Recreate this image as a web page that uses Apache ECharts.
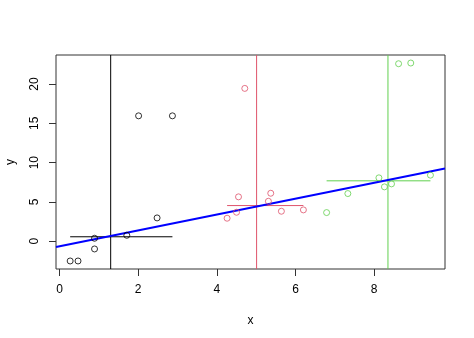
<!DOCTYPE html>
<html><head><meta charset="utf-8">
<script src="https://cdn.jsdelivr.net/npm/echarts@6/dist/echarts.min.js"></script>
<style>html,body{margin:0;padding:0;background:#fff}#c{width:474px;height:338px}</style>
</head><body><div id="c"></div>
<script>
// group 1 (black)
const blackX = [0.27, 0.47, 0.89, 0.89, 1.71, 2.01, 2.48, 2.87];
const blackY = [-2.51, -2.51, 0.38, -0.98, 0.76, 15.96, 2.97, 15.96];
// group 2 (red)
const redX = [4.26, 4.50, 4.55, 4.71, 5.31, 5.37, 5.64, 6.20];
const redY = [2.93, 3.69, 5.65, 19.45, 5.09, 6.11, 3.82, 3.99];
// group 3 (green)
const greenX = [6.79, 7.33, 8.12, 8.26, 8.44, 8.62, 8.93, 9.43];
const greenY = [3.65, 6.07, 8.07, 6.92, 7.30, 22.59, 22.68, 8.41];
// group medians (vertical line at median x, horizontal segment at median y)
const medX = [1.30, 5.01, 8.35];
const medY = [0.57, 4.54, 7.69];
// resistant line fit
const fitIntercept = -0.65;
const fitSlope = 1.01;
// axes
const xTicks = [0, 2, 4, 6, 8];
const yTicks = [0, 5, 10, 15, 20];
const xRange = [-0.09, 9.80];
const yRange = [-3.53, 23.7];

const colors = ['#000000', '#DF536B', '#61D04F'];
const groupsX = [blackX, redX, greenX];
const groupsY = [blackY, redY, greenY];
const font = 'Liberation Sans, Arial, Helvetica, sans-serif';

const series = [];
groupsX.forEach((gx, i) => {
  const gy = groupsY[i];
  series.push({
    type: 'scatter', symbol: 'circle', symbolSize: 6,
    itemStyle: { color: 'rgba(0,0,0,0)', borderColor: colors[i], borderWidth: 1 },
    data: gx.map((x, k) => [x, gy[k]]), z: 5
  });
  series.push({
    type: 'line', symbol: 'none', color: colors[i], lineStyle: { color: colors[i], width: 1 },
    data: [[medX[i], yRange[0]], [medX[i], yRange[1]]], z: 3
  });
  series.push({
    type: 'line', symbol: 'none', color: colors[i], lineStyle: { color: colors[i], width: 1 },
    data: [[Math.min(...gx), medY[i]], [Math.max(...gx), medY[i]]], z: 3
  });
});
series.push({
  type: 'line', symbol: 'none', color: '#0000FF', lineStyle: { color: '#0000FF', width: 2 },
  data: [[xRange[0], fitIntercept + fitSlope * xRange[0]], [xRange[1], fitIntercept + fitSlope * xRange[1]]], z: 4
});

const chart = echarts.init(document.getElementById('c'), null, { renderer: 'canvas' });
chart.setOption({
  animation: false,
  backgroundColor: '#fff',
  grid: { left: 56, right: 29, top: 55, bottom: 69, show: true, borderColor: '#333', borderWidth: 1, containLabel: false, outerBoundsMode: 'none' },
  xAxis: {
    type: 'value', min: xRange[0], max: xRange[1],
    name: 'x', nameLocation: 'middle', nameGap: 46,
    nameTextStyle: { fontFamily: font, fontSize: 12, color: '#000' },
    axisLine: { show: false, onZero: false },
    axisTick: { show: true, inside: false, length: 7, lineStyle: { color: '#333' }, customValues: xTicks },
    axisLabel: { fontFamily: font, fontSize: 12, color: '#000', margin: 15, customValues: xTicks },
    splitLine: { show: false }
  },
  yAxis: {
    type: 'value', min: yRange[0], max: yRange[1],
    name: 'y', nameLocation: 'middle', nameGap: 39, nameRotate: 90,
    nameTextStyle: { fontFamily: font, fontSize: 12, color: '#000' },
    axisLine: { show: false, onZero: false },
    axisTick: { show: true, inside: false, length: 7, lineStyle: { color: '#333' }, customValues: yTicks },
    axisLabel: { fontFamily: font, fontSize: 12, color: '#000', margin: 15, rotate: 90, customValues: yTicks },
    splitLine: { show: false }
  },
  series: series
});
</script></body></html>
